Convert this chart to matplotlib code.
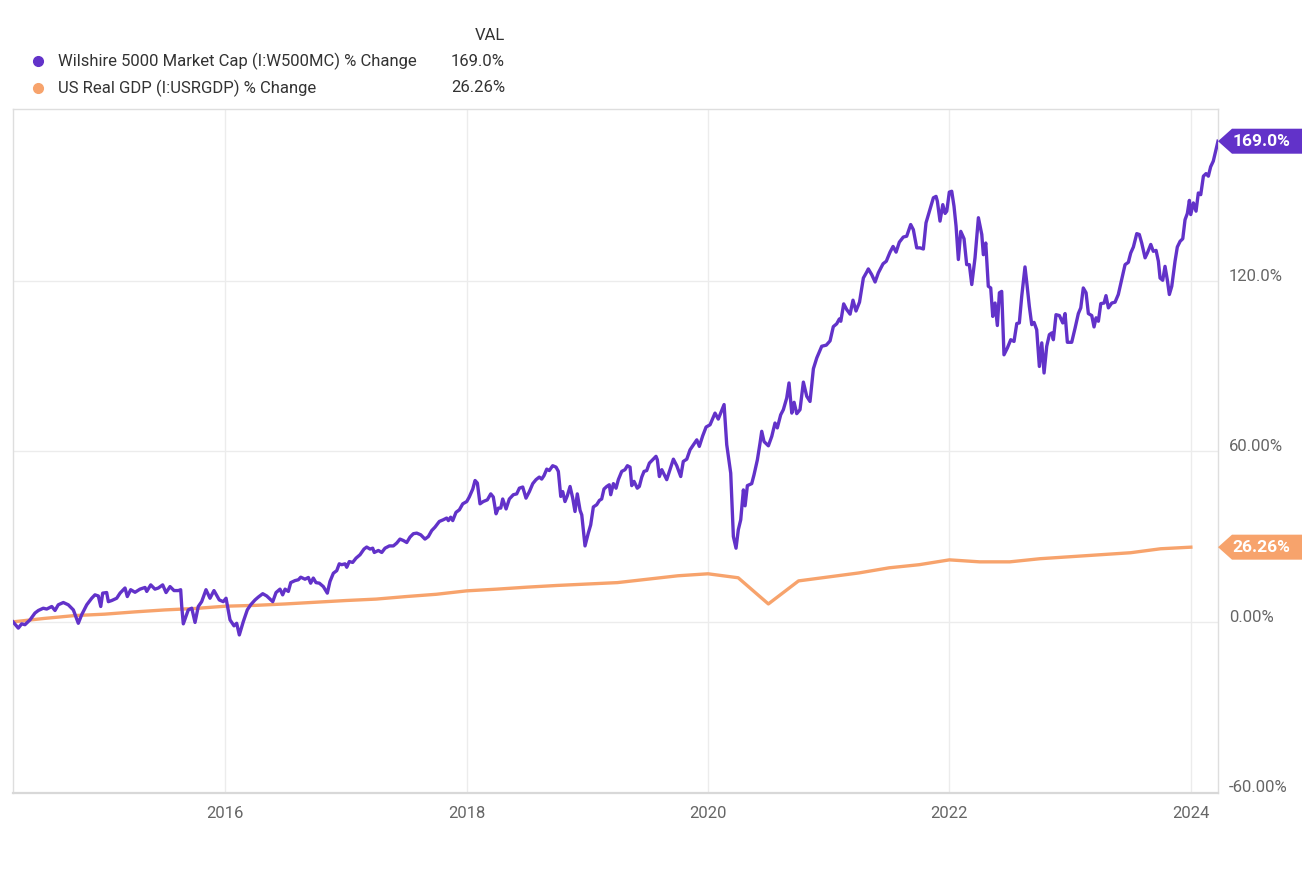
import matplotlib
matplotlib.use("Agg")
import matplotlib.pyplot as plt
from matplotlib.patches import Polygon
from matplotlib.lines import Line2D

plt.rcParams['font.family'] = ['Roboto', 'DejaVu Sans']

# ---------------- data ----------------
series_names = ["Wilshire 5000 Market Cap (I:W500MC) % Change",
                "US Real GDP (I:USRGDP) % Change"]
series_last = ["169.0%", "26.26%"]
header = "VAL"

wil_t = [2014.242, 2014.286, 2014.314, 2014.341, 2014.383, 2014.424, 2014.452, 2014.493, 2014.521, 2014.563,
         2014.590, 2014.617, 2014.659, 2014.700, 2014.742, 2014.783, 2014.811, 2014.853, 2014.894, 2014.921,
         2014.949, 2014.969, 2014.985, 2015.018, 2015.032, 2015.060, 2015.101, 2015.129, 2015.170, 2015.189,
         2015.217, 2015.253, 2015.294, 2015.336, 2015.350, 2015.383, 2015.418, 2015.446, 2015.482, 2015.510,
         2015.543, 2015.576, 2015.612, 2015.631, 2015.640, 2015.653, 2015.694, 2015.723, 2015.750, 2015.777,
         2015.805, 2015.841, 2015.874, 2015.907, 2015.951, 2015.984, 2016.007, 2016.040, 2016.073, 2016.095,
         2016.117, 2016.150, 2016.183, 2016.211, 2016.247, 2016.274, 2016.311, 2016.344, 2016.371, 2016.394,
         2016.421, 2016.454, 2016.476, 2016.496, 2016.523, 2016.543, 2016.578, 2016.606, 2016.626, 2016.661,
         2016.689, 2016.708, 2016.730, 2016.752, 2016.780, 2016.813, 2016.846, 2016.868, 2016.896, 2016.924,
         2016.945, 2016.965, 2016.993, 2017.007, 2017.028, 2017.056, 2017.084, 2017.117, 2017.150, 2017.172,
         2017.200, 2017.222, 2017.235, 2017.269, 2017.297, 2017.324, 2017.360, 2017.393, 2017.421, 2017.448,
         2017.476, 2017.504, 2017.531, 2017.559, 2017.587, 2017.620, 2017.655, 2017.683, 2017.711, 2017.738,
         2017.774, 2017.807, 2017.835, 2017.849, 2017.868, 2017.885, 2017.912, 2017.940, 2017.968, 2018.001,
         2018.022, 2018.051, 2018.070, 2018.089, 2018.111, 2018.138, 2018.172, 2018.200, 2018.221, 2018.244,
         2018.263, 2018.283, 2018.299, 2018.327, 2018.354, 2018.387, 2018.415, 2018.437, 2018.465, 2018.492,
         2018.520, 2018.548, 2018.575, 2018.602, 2018.622, 2018.641, 2018.664, 2018.685, 2018.713, 2018.741,
         2018.760, 2018.780, 2018.796, 2018.815, 2018.834, 2018.857, 2018.879, 2018.898, 2018.917, 2018.940,
         2018.954, 2018.981, 2019.008, 2019.028, 2019.050, 2019.078, 2019.100, 2019.119, 2019.138, 2019.161,
         2019.182, 2019.194, 2019.216, 2019.238, 2019.257, 2019.285, 2019.312, 2019.332, 2019.354, 2019.368,
         2019.387, 2019.414, 2019.431, 2019.451, 2019.470, 2019.492, 2019.514, 2019.542, 2019.569, 2019.580,
         2019.597, 2019.617, 2019.658, 2019.685, 2019.713, 2019.741, 2019.774, 2019.795, 2019.824, 2019.851,
         2019.884, 2019.907, 2019.928, 2019.956, 2019.984, 2020.017, 2020.058, 2020.085, 2020.133, 2020.155,
         2020.188, 2020.210, 2020.232, 2020.251, 2020.271, 2020.293, 2020.307, 2020.326, 2020.362, 2020.381,
         2020.409, 2020.431, 2020.445, 2020.464, 2020.500, 2020.528, 2020.555, 2020.574, 2020.602, 2020.624,
         2020.652, 2020.671, 2020.694, 2020.713, 2020.735, 2020.762, 2020.790, 2020.818, 2020.845, 2020.873,
         2020.901, 2020.942, 2020.980, 2021.011, 2021.038, 2021.066, 2021.088, 2021.100, 2021.124, 2021.149,
         2021.177, 2021.201, 2021.226, 2021.255, 2021.287, 2021.315, 2021.328, 2021.356, 2021.384, 2021.411,
         2021.450, 2021.477, 2021.508, 2021.533, 2021.558, 2021.585, 2021.618, 2021.646, 2021.679, 2021.701,
         2021.729, 2021.757, 2021.784, 2021.806, 2021.839, 2021.867, 2021.889, 2021.900, 2021.922, 2021.945,
         2021.964, 2021.978, 2021.999, 2022.019, 2022.038, 2022.055, 2022.074, 2022.094, 2022.121, 2022.143,
         2022.165, 2022.185, 2022.212, 2022.240, 2022.268, 2022.281, 2022.301, 2022.322, 2022.342, 2022.359,
         2022.378, 2022.397, 2022.414, 2022.433, 2022.452, 2022.480, 2022.508, 2022.535, 2022.558, 2022.579,
         2022.599, 2022.626, 2022.641, 2022.662, 2022.682, 2022.701, 2022.723, 2022.745, 2022.765, 2022.784,
         2022.806, 2022.828, 2022.848, 2022.861, 2022.883, 2022.911, 2022.939, 2022.958, 2022.977, 2023.013,
         2023.041, 2023.068, 2023.088, 2023.109, 2023.132, 2023.151, 2023.179, 2023.198, 2023.215, 2023.234,
         2023.254, 2023.281, 2023.297, 2023.317, 2023.345, 2023.372, 2023.399, 2023.428, 2023.455, 2023.482,
         2023.502, 2023.524, 2023.552, 2023.573, 2023.593, 2023.621, 2023.640, 2023.668, 2023.689, 2023.712,
         2023.731, 2023.745, 2023.767, 2023.786, 2023.805, 2023.822, 2023.842, 2023.869, 2023.888, 2023.911,
         2023.933, 2023.952, 2023.971, 2023.988, 2023.999, 2024.021, 2024.043, 2024.062, 2024.082, 2024.104,
         2024.126, 2024.145, 2024.164, 2024.186, 2024.225]

wil_v = [0.0, -2.2, -0.7, -1.0, 0.7, 3.1, 4.0, 4.8, 4.5, 5.4,
         4.0, 6.0, 6.8, 6.0, 4.2, -0.5, 2.5, 6.0, 8.3, 9.5,
         9.1, 5.4, 10.1, 10.3, 7.1, 7.5, 8.3, 10.1, 11.9, 8.9,
         11.3, 10.4, 11.5, 12.1, 10.7, 13.0, 11.5, 11.9, 13.0, 10.3,
         12.4, 11.0, 11.0, 11.3, 5.4, -0.7, 4.2, 4.8, -0.2, 5.4,
         7.1, 11.3, 8.3, 11.0, 7.7, 7.1, 8.3, 0.7, -1.4, -0.5,
         -4.6, 0.1, 4.2, 6.0, 7.7, 8.7, 9.9, 9.1, 8.0, 7.1,
         10.3, 11.5, 9.5, 11.5, 10.7, 13.8, 14.5, 14.8, 15.7, 15.0,
         15.6, 13.6, 15.4, 13.8, 13.6, 12.4, 10.1, 14.2, 17.1, 18.0,
         20.4, 20.1, 20.4, 19.2, 21.2, 20.9, 22.4, 23.6, 25.6, 26.3,
         25.6, 25.9, 24.4, 25.1, 24.4, 25.9, 26.7, 26.7, 27.7, 29.1,
         28.6, 27.9, 29.8, 31.0, 31.2, 30.6, 29.1, 30.0, 32.1, 33.3,
         35.3, 35.9, 36.5, 35.6, 36.8, 35.6, 38.5, 39.4, 41.5, 42.3,
         43.9, 46.7, 49.7, 48.8, 41.5, 42.3, 42.9, 45.0, 43.9, 38.0,
         40.0, 40.0, 43.2, 39.7, 43.2, 44.7, 45.0, 47.0, 47.4, 43.5,
         45.8, 48.6, 50.0, 50.9, 50.2, 51.4, 53.7, 53.2, 54.9, 54.4,
         52.9, 44.1, 45.8, 42.3, 44.3, 47.6, 43.5, 38.8, 45.0, 39.2,
         37.6, 26.7, 31.2, 34.1, 40.4, 41.2, 42.7, 43.2, 46.7, 47.6,
         48.2, 44.7, 48.6, 47.0, 50.0, 52.9, 53.5, 54.9, 54.4, 47.9,
         49.4, 47.0, 47.6, 50.9, 52.9, 53.2, 55.8, 57.0, 58.2, 57.0,
         51.1, 53.5, 50.0, 53.5, 57.2, 54.9, 51.1, 56.4, 57.2, 60.5,
         62.6, 64.0, 61.7, 65.4, 68.5, 69.3, 73.4, 71.3, 76.4, 62.3,
         52.3, 30.0, 25.9, 32.4, 35.9, 46.4, 40.8, 47.9, 48.6, 51.7,
         57.0, 62.9, 67.0, 63.4, 61.9, 65.2, 69.9, 68.2, 72.8, 74.6,
         78.7, 84.0, 73.4, 77.2, 73.2, 74.6, 84.3, 79.3, 77.5, 89.0,
         92.8, 96.9, 97.3, 98.8, 103.8, 104.8, 106.5, 105.7, 111.8, 109.8,
         108.2, 113.1, 109.3, 112.4, 120.9, 123.0, 124.1, 122.1, 119.5, 122.7,
         125.9, 126.8, 130.0, 132.0, 130.0, 133.5, 135.3, 135.6, 139.7, 137.9,
         131.5, 131.5, 131.1, 140.3, 145.0, 149.1, 149.6, 147.9, 140.9, 146.7,
         143.6, 144.4, 151.1, 151.4, 146.1, 139.1, 127.4, 137.3, 134.7, 125.6,
         125.6, 118.6, 128.0, 142.1, 136.2, 129.1, 133.2, 118.0, 117.4, 107.4,
         112.1, 104.2, 115.7, 116.2, 93.9, 96.3, 99.2, 98.6, 104.9, 105.1,
         114.5, 124.8, 119.2, 110.9, 104.5, 105.3, 102.7, 89.8, 98.1, 87.5,
         96.9, 101.0, 101.6, 99.2, 108.0, 107.7, 105.1, 108.4, 98.3, 98.3,
         103.3, 108.4, 110.4, 117.4, 115.7, 108.4, 107.7, 103.7, 106.9, 105.7,
         111.9, 112.1, 114.7, 110.4, 112.1, 112.4, 115.1, 120.6, 125.6, 126.4,
         129.7, 131.8, 136.5, 136.2, 133.2, 128.0, 129.7, 132.7, 130.3, 130.6,
         126.8, 120.9, 120.1, 125.0, 120.3, 115.1, 118.0, 126.8, 131.8, 133.8,
         134.7, 141.4, 143.6, 148.2, 143.2, 147.3, 144.4, 150.8, 150.2, 156.7,
         157.6, 156.7, 160.0, 162.0, 169.0]

gdp_t = [2014.242, 2014.5, 2014.75, 2015.0, 2015.25, 2015.5, 2015.75, 2016.0, 2016.25, 2016.5,
         2016.75, 2017.0, 2017.25, 2017.5, 2017.75, 2018.0, 2018.25, 2018.5, 2018.75, 2019.0,
         2019.25, 2019.5, 2019.75, 2020.0, 2020.25, 2020.5, 2020.75, 2021.0, 2021.25, 2021.5,
         2021.75, 2022.0, 2022.25, 2022.5, 2022.75, 2023.0, 2023.25, 2023.5, 2023.75, 2024.0]
gdp_v = [0.0, 1.2, 2.2, 2.7, 3.5, 4.2, 4.7, 5.5, 5.8, 6.3,
         6.9, 7.5, 8.0, 8.9, 9.7, 10.9, 11.5, 12.2, 12.8, 13.3,
         13.8, 15.0, 16.2, 16.9, 15.5, 6.3, 14.4, 15.8, 17.2, 19.0,
         20.1, 21.8, 21.1, 21.1, 22.2, 22.9, 23.6, 24.3, 25.7, 26.26]

x_ticks = [2016, 2018, 2020, 2022, 2024]
x_labels = ["2016", "2018", "2020", "2022", "2024"]
y_ticks = [-60, 0, 60, 120]
y_labels = ["-60.00%", "0.00%", "60.00%", "120.0%"]

PURPLE = "#6232c9"
ORANGE = "#f7a36c"
GRID = "#ececec"
TICKC = "#666666"
TEXTC = "#333333"
FS = 12

W, H = 1302, 885
fig = plt.figure(figsize=(W / 100, H / 100), dpi=100)
fig.patch.set_facecolor("white")
ax = fig.add_axes([13 / W, (H - 792.5) / H, 1205 / W, (792.5 - 108.5) / H])

ax.plot(gdp_t, gdp_v, color=ORANGE, lw=2.4, solid_joinstyle="round", zorder=3)
ax.plot(wil_t, wil_v, color=PURPLE, lw=2.4, solid_joinstyle="round", zorder=4)

ax.set_xlim(2014.242, 2024.225)
ax.set_ylim(-60, 180.5)

ax.set_xticks(x_ticks, labels=x_labels)
ax.set_yticks(y_ticks, labels=y_labels)
ax.yaxis.tick_right()
ax.tick_params(axis="both", length=0, colors=TICKC, labelsize=FS)
ax.tick_params(axis="y", pad=8)
ax.tick_params(axis="x", pad=10)
for lbl in ax.get_yticklabels():
    lbl.set_verticalalignment("baseline")
ax.grid(True, color=GRID, lw=1)
ax.set_axisbelow(True)
for s in ["left", "right", "top"]:
    ax.spines[s].set_color("#dedede")
    ax.spines[s].set_linewidth(1)
ax.spines["bottom"].set_color("#d8d8d8")
ax.spines["bottom"].set_linewidth(1.6)

# ---------- legend header ----------
def fx(px):
    return px / W

def fy(py):
    return 1 - py / H

fig.text(fx(505), fy(35), header, ha="right", va="center", fontsize=FS, color=TEXTC)
for i, (name, val, col) in enumerate(zip(series_names, series_last, [PURPLE, ORANGE])):
    yy = fy(61 + 27 * i)
    fig.add_artist(Line2D([fx(38)], [yy], marker="o", ms=7, color=col, mec=col,
                          transform=fig.transFigure))
    fig.text(fx(58), yy, name, ha="left", va="center", fontsize=FS, color=TEXTC)
    fig.text(fx(505), yy, val, ha="right", va="center", fontsize=FS, color=TEXTC)

# ---------- end value tags ----------
inv = fig.transFigure.inverted()
for vals, label, col in [(wil_v, series_last[0], PURPLE), (gdp_v, series_last[1], ORANGE)]:
    yc = inv.transform(ax.transData.transform((2020, vals[-1])))[1]
    hh = 12.5 / H
    pts = [(fx(1218), yc), (fx(1232), yc + hh), (1.0, yc + hh), (1.0, yc - hh), (fx(1232), yc - hh)]
    fig.add_artist(Polygon(pts, closed=True, facecolor=col, edgecolor="none",
                           transform=fig.transFigure))
    fig.text(fx(1261), yc, label, ha="center", va="center", fontsize=12.5,
             fontweight="bold", color="white")

fig.savefig("out.png", dpi=100, facecolor="white")
